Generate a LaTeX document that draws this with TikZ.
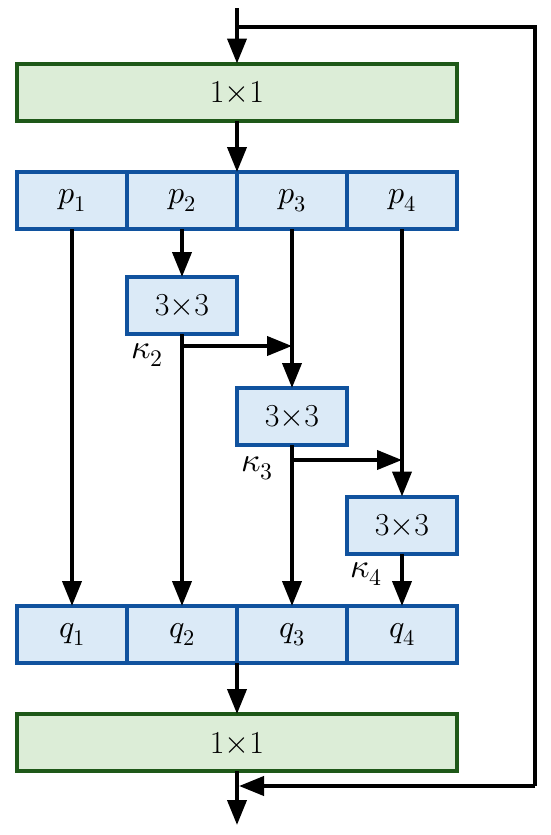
\documentclass[tikz,border=0pt]{standalone}
\usepackage{fontspec}
\usepackage{unicode-math}
\setmathfont{Latin Modern Math}
\usetikzlibrary{arrows.meta}
\definecolor{bborder}{RGB}{16,82,158}
\definecolor{bfill}{RGB}{219,234,247}
\definecolor{gborder}{RGB}{30,88,24}
\definecolor{gfill}{RGB}{220,237,215}
\begin{document}
\begin{tikzpicture}[x=1pt,y=-1pt,
  gbox/.style={draw=gborder,fill=gfill,line width=4pt,minimum width=440pt,minimum height=57pt,inner sep=0pt,outer sep=0pt,font=\fontsize{32}{35}\selectfont},
  bbox/.style={draw=bborder,fill=bfill,line width=4pt,minimum width=110pt,minimum height=57pt,inner sep=0pt,outer sep=0pt,font=\fontsize{32}{35}\selectfont},
  wire/.style={line width=4pt},
  arr/.style={line width=4pt,-{Triangle[length=25pt,width=19pt]}},
  klab/.style={font=\fontsize{34}{36}\selectfont,inner sep=0pt}]
\useasboundingbox (0,0) rectangle (550,835);
% top 1x1
\node[gbox] (c1) at (237,92) {1$\times$1};
% p row
\node[bbox] (p1) at (72,200.5) {$p_1$};
\node[bbox] (p2) at (182,200.5) {$p_2$};
\node[bbox] (p3) at (292,200.5) {$p_3$};
\node[bbox] (p4) at (402,200.5) {$p_4$};
% 3x3 boxes
\node[bbox] (b1) at (182,305.5) {3$\times$3};
\node[bbox] (b2) at (292,416.5) {3$\times$3};
\node[bbox] (b3) at (402,525) {3$\times$3};
% q row
\node[bbox] (q1) at (72,634.5) {$q_1$};
\node[bbox] (q2) at (182,634.5) {$q_2$};
\node[bbox] (q3) at (292,634.5) {$q_3$};
\node[bbox] (q4) at (402,634.5) {$q_4$};
% bottom 1x1
\node[gbox] (c2) at (237,742.5) {1$\times$1};
% kappa labels
\node[klab] (k2) at (147,355) {$\kappa_2$};
\node[klab] (k3) at (257,468) {$\kappa_3$};
\node[klab] (k4) at (366,574) {$\kappa_4$};
% coordinates
\coordinate (in) at (237,8);
\coordinate (tap) at (237,27);
\coordinate (rt) at (535,27);
\coordinate (rb) at (535,786);
\coordinate (join) at (239,786);
\coordinate (out) at (237,825);
\coordinate (h1) at (182,346);
\coordinate (h2) at (292,460);
% connectors
\draw[arr] (in) -- (c1.north);
\draw[wire,line join=miter] (tap) -- (rt) -- (rb);
\draw[arr] (rb) -- (join);
\draw[arr] (c1.south) -- (p2.north east);
\draw[arr] (p1.south) -- (q1.north);
\draw[arr] (p2.south) -- (b1.north);
\draw[arr] (b1.south) -- (q2.north);
\draw[arr] (h1) -- (h1 -| p3.south);
\draw[arr] (p3.south) -- (b2.north);
\draw[arr] (b2.south) -- (q3.north);
\draw[arr] (h2) -- (h2 -| p4.south);
\draw[arr] (p4.south) -- (b3.north);
\draw[arr] (b3.south) -- (q4.north);
\draw[arr] (q2.south east) -- (c2.north);
\draw[arr] (c2.south) -- (out);
\end{tikzpicture}
\end{document}
